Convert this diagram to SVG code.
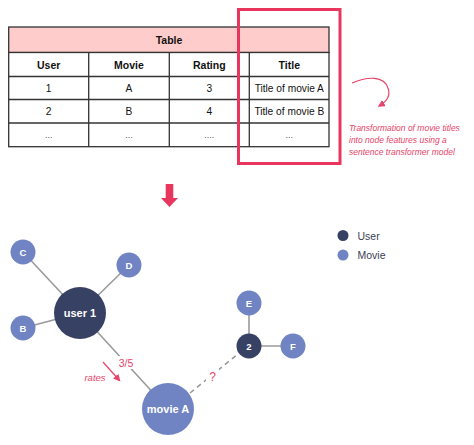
<svg xmlns="http://www.w3.org/2000/svg" width="474" height="445" viewBox="0 0 474 445">
<style>
.cell{fill:#fff;stroke:#333;stroke-width:1.3}
.th{font-family:"Liberation Sans",Arial,sans-serif;font-size:10.5px;font-weight:bold;fill:#111;text-anchor:middle;dominant-baseline:central}
.td{font-family:"Liberation Sans",Arial,sans-serif;font-size:10.2px;fill:#111;text-anchor:middle;dominant-baseline:central}
.dots{font-family:"Liberation Sans",Arial,sans-serif;font-size:9px;fill:#555;text-anchor:middle}
.edge{stroke:#9a9a9a;stroke-width:1.6;fill:none}
.user{fill:#374163}
.movie{fill:#7084c4}
.nl{font-family:"Liberation Sans",Arial,sans-serif;font-weight:bold;fill:#fff;text-anchor:middle;dominant-baseline:central}
.pink{font-family:"Liberation Sans",Arial,sans-serif;fill:#e8436a}
.leg{font-family:"Liberation Sans",Arial,sans-serif;font-size:10.5px;fill:#3a3f55;dominant-baseline:central}
</style>
<defs>
<marker id="ah" viewBox="0 0 10 10" refX="8" refY="5" markerWidth="6" markerHeight="6" orient="auto-start-reverse">
<path d="M0,0 L10,5 L0,10 z" fill="#e8436a"/>
</marker>
</defs>
<g id="table">
<rect x="8.7" y="27" width="320.3" height="25.5" fill="#ffcccc" stroke="#333" stroke-width="1.3"/>
<text class="th" x="169" y="40">Table</text>
<rect class="cell" x="8.7" y="52.5" width="320.3" height="94.2"/>
<line x1="8.7" y1="76.5" x2="329" y2="76.5" stroke="#333" stroke-width="1.3"/>
<line x1="8.7" y1="99.5" x2="329" y2="99.5" stroke="#333" stroke-width="1.3"/>
<line x1="8.7" y1="123" x2="329" y2="123" stroke="#333" stroke-width="1.3"/>
<line x1="88.7" y1="52.5" x2="88.7" y2="146.7" stroke="#333" stroke-width="1.3"/>
<line x1="169.3" y1="52.5" x2="169.3" y2="146.7" stroke="#333" stroke-width="1.3"/>
<line x1="249.3" y1="52.5" x2="249.3" y2="146.7" stroke="#333" stroke-width="1.3"/>
<text class="th" x="48.7" y="64.5">User</text>
<text class="th" x="129" y="64.5">Movie</text>
<text class="th" x="209.3" y="64.5">Rating</text>
<text class="th" x="289.3" y="64.5">Title</text>
<text class="td" x="48.7" y="88">1</text>
<text class="td" x="129" y="88">A</text>
<text class="td" x="209.3" y="88">3</text>
<text class="td" x="289.3" y="88">Title of movie A</text>
<text class="td" x="48.7" y="111">2</text>
<text class="td" x="129" y="111">B</text>
<text class="td" x="209.3" y="111">4</text>
<text class="td" x="289.3" y="111">Title of movie B</text>
<text class="dots" x="48.7" y="138">...</text>
<text class="dots" x="129" y="138">...</text>
<text class="dots" x="209.3" y="138">....</text>
<text class="dots" x="289.3" y="138">...</text>
</g>
<g id="highlight">
<rect x="238.5" y="9.5" width="101.5" height="154" fill="none" stroke="#e8365e" stroke-width="3"/>
</g>
<g id="annotation">
<path d="M352,83 C368,76 384,76 388,88 C391,96 386,102 379,106" fill="none" stroke="#e8436a" stroke-width="1.2" marker-end="url(#ah)"/>
<text class="pink" font-size="8.5" font-style="italic" x="349" y="130.5">Transformation of movie titles</text>
<text class="pink" font-size="8.5" font-style="italic" x="349" y="142.5">into node features using a</text>
<text class="pink" font-size="8.5" font-style="italic" x="349" y="154.5">sentence transformer model</text>
</g>
<g id="down-arrow">
<path d="M165.7,184 L173.3,184 L173.3,198 L178,198 L169.5,207 L161,198 L165.7,198 z" fill="#e8365e"/>
</g>
<g id="connectors">
<line class="edge" x1="80" y1="313" x2="23" y2="252"/>
<line class="edge" x1="80" y1="313" x2="129" y2="265"/>
<line class="edge" x1="80" y1="313" x2="23" y2="328"/>
<line class="edge" x1="80" y1="313" x2="168" y2="409"/>
<line class="edge" x1="249" y1="346" x2="249" y2="303"/>
<line class="edge" x1="249" y1="346" x2="293" y2="346"/>
<line class="edge" x1="190" y1="393" x2="238" y2="354" stroke-dasharray="5,4"/>
<rect x="116" y="356" width="20" height="13" fill="#fff"/>
<text class="pink" font-size="10.5" x="126" y="366.5" text-anchor="middle">3/5</text>
<rect x="206" y="368" width="13" height="15" fill="#fff"/>
<text class="pink" font-size="12" x="212.5" y="380.5" text-anchor="middle">?</text>
<text class="pink" font-size="9.5" font-style="italic" x="95" y="380.5" text-anchor="middle">rates</text>
<line x1="103" y1="362" x2="119.5" y2="380.5" stroke="#e8436a" stroke-width="1.2" marker-end="url(#ah)"/>
</g>
<g id="node-C"><circle class="movie" cx="23" cy="252" r="12.5"/><text class="nl" x="23" y="252" font-size="9.5">C</text></g>
<g id="node-D"><circle class="movie" cx="129" cy="265" r="12.5"/><text class="nl" x="129" y="265" font-size="9.5">D</text></g>
<g id="node-B"><circle class="movie" cx="23" cy="328" r="12.5"/><text class="nl" x="23" y="328" font-size="9.5">B</text></g>
<g id="node-user1"><circle class="user" cx="80" cy="313" r="26"/><text class="nl" x="80" y="313" font-size="11">user 1</text></g>
<g id="node-movieA"><circle class="movie" cx="168" cy="409" r="26"/><text class="nl" x="168" y="409" font-size="11">movie A</text></g>
<g id="node-E"><circle class="movie" cx="249" cy="303" r="12.5"/><text class="nl" x="249" y="303" font-size="9.5">E</text></g>
<g id="node-2"><circle class="user" cx="249" cy="346" r="12.5"/><text class="nl" x="249" y="346" font-size="9.5">2</text></g>
<g id="node-F"><circle class="movie" cx="293" cy="346" r="12.5"/><text class="nl" x="293" y="346" font-size="9.5">F</text></g>
<g id="legend">
<circle class="user" cx="343" cy="235.5" r="5.5"/>
<text class="leg" x="357.5" y="235.5">User</text>
<circle class="movie" cx="343" cy="255" r="5.5"/>
<text class="leg" x="357.5" y="255">Movie</text>
</g>
</svg>
